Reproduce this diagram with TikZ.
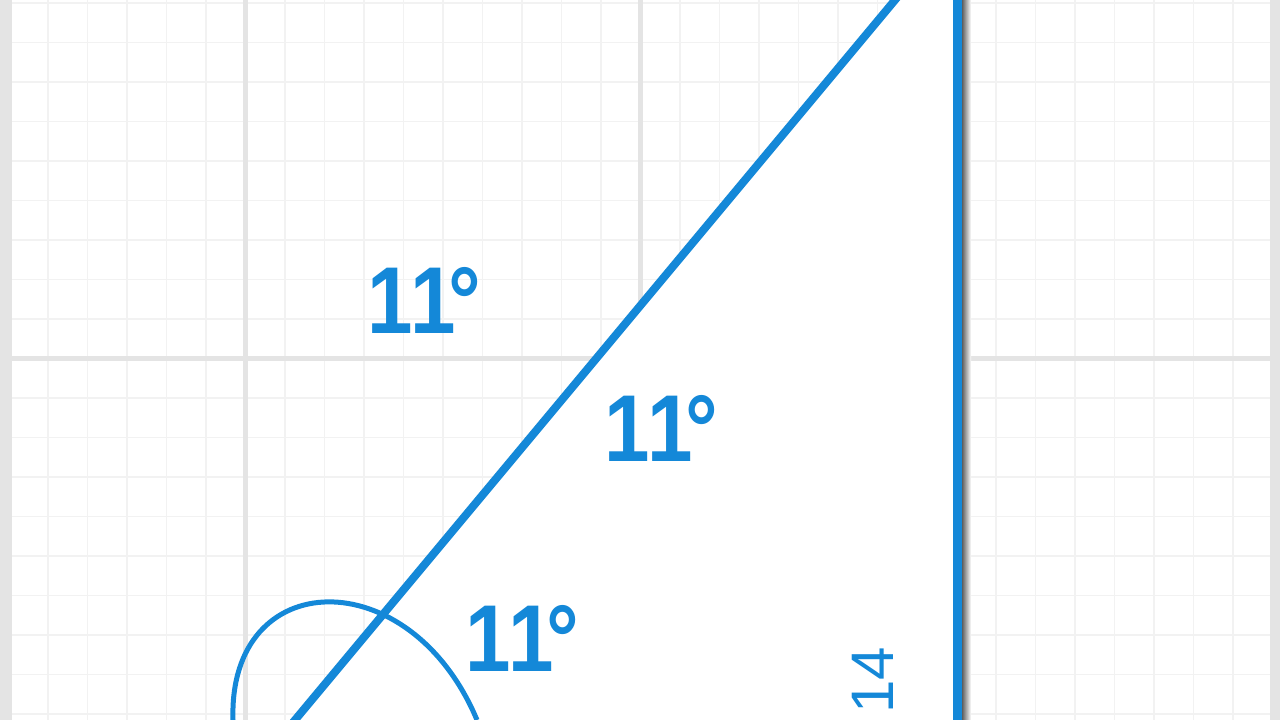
\documentclass[tikz,border=0pt]{standalone}
\usepackage{fontspec}
\setmainfont{Liberation Sans}
\usetikzlibrary{calc}
\definecolor{blu}{RGB}{20,136,216}
\definecolor{gridminor}{RGB}{242,242,242}
\definecolor{gridmajor}{RGB}{228,228,228}
\definecolor{band}{RGB}{228,228,228}
\newcommand{\elevdeg}{\scalebox{0.86}[1]{1\kern-0.03em1\kern-0.09em°}}
\begin{document}
\begin{tikzpicture}[x=1pt,y=-1pt,
  minorline/.style={draw=gridminor, line width=1.4pt},
  majorline/.style={draw=gridmajor, line width=5pt},
  sideline/.style={draw=blu, line width=9pt},
  arcline/.style={draw=blu, line width=5pt},
  anglelbl/.style={text=blu, inner sep=0pt, font=\bfseries\fontsize{95}{95}\selectfont},
  lenlbl/.style={text=blu, inner sep=0pt, font=\fontsize{60}{60}\selectfont},
]
\useasboundingbox (0,0) rectangle (1280,720);
% paper and edge bands
\fill[band] (0,0) rectangle (1280,720);
\fill[white] (12,0) rectangle (1270,720);
% grid
\begin{scope}
  \clip (12,0) rectangle (1270,720);
  \foreach \i in {0,...,32} {\draw[minorline] ({8.5+39.5*\i},0) -- ({8.5+39.5*\i},720);}
  \foreach \j in {0,...,18} {\draw[minorline] (12,{3+39.5*\j}) -- (1270,{3+39.5*\j});}
  \draw[majorline] (245,0) -- (245,720);
  \draw[majorline] (640,0) -- (640,720);
  \draw[majorline] (12,358) -- (1270,358);
\end{scope}
% corners of the triangle
\coordinate (A) at (295,720);
\coordinate (B) at (895,0);
\coordinate (C) at (957,0);
\coordinate (D) at (957,720);
% white interior
\fill[white] (A) -- (B) -- (C) -- (D) -- cycle;
% shadow of the vertical side
\shade[left color=black!70, right color=white] (961,0) rectangle (971,720);
% arc
\coordinate (P) at (233,720);
\coordinate (Q) at (477,720);
\draw[arcline] (P) .. controls (228,565) and (410,560) .. (Q);
% sides
\draw[sideline] (C) -- (D);
\coordinate (A2) at ($(A)!-0.05!(B)$);
\coordinate (B2) at ($(B)!-0.05!(A)$);
\draw[sideline, line width=8pt] (A2) -- (B2);
% labels
\node[anglelbl] (l1) at (424,300) {\elevdeg};
\node[anglelbl] (l2) at (661,428) {\elevdeg};
\node[anglelbl] (l3) at (522,638) {\elevdeg};
\node[lenlbl, rotate=90] (len) at (873,680) {14};
\end{tikzpicture}
\end{document}
